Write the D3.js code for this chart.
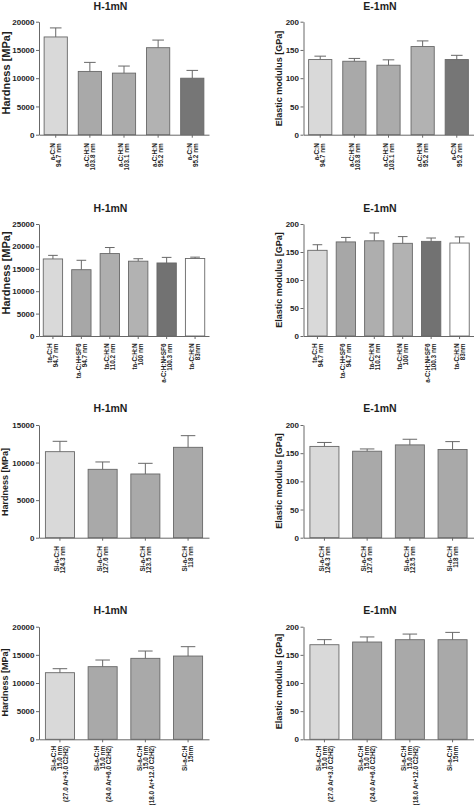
<!DOCTYPE html>
<html>
<head>
<meta charset="utf-8">
<script src="https://cdn.jsdelivr.net/npm/d3@7"></script>
<style>
  body { margin: 0; background: #fff; }
  svg { display: block; }
  text { font-family: "Liberation Sans", Arial, sans-serif; font-weight: bold; fill: #1e1e1e; }
</style>
</head>
<body>
<script>
// --- data ---
// row 1: a-C:N / a-C:H:N
const samples1 = [["a-C:N", "94.7 nm"], ["a-C:H:N", "103.8 nm"], ["a-C:H:N", "103.1 nm"], ["a-C:H:N", "95.2 nm"], ["a-C:N", "95.2 nm"]];
const hard1 = [17300, 11200, 10900, 15400, 10000];
const hardErr1 = [1600, 1600, 1250, 1350, 1380];
const mod1 = [133, 130, 123, 156, 133];
const modErr1 = [6, 5, 9.5, 10, 7.5];

// row 2: ta-C:H based
const samples2 = [["ta-C:H", "94.7 nm"], ["ta-C:H+SF6", "94.7 nm"], ["ta-C:H:N", "110.2 nm"], ["ta-C:H:N", "100 nm"], ["a-C:H:N+SF6", "100.3 nm"], ["ta-C:H:N", "83nm"]];
const hard2 = [17200, 14800, 18400, 16700, 16300, 17300];
const hardErr2 = [800, 2100, 1350, 550, 1250, 300];
const mod2 = [153, 168, 170, 165.5, 169, 166];
const modErr2 = [10, 8, 14, 12, 6, 11];

// row 3: Si-a-C:H, thickness series
const samples3 = [["Si-a-C:H", "124.3 nm"], ["Si-a-C:H", "127.6 nm"], ["Si-a-C:H", "123.5 nm"], ["Si-a-C:H", "118 nm"]];
const hard3 = [11450, 9100, 8480, 12030];
const hardErr3 = [1380, 980, 1420, 1550];
const mod3 = [162, 153.5, 164.7, 156.5];
const modErr3 = [7, 4, 10, 14];

// row 4: Si-a-C:H, gas mixture series
const samples4 = [["Si-a-C:H", "15.0 nm", "(27.0 Ar+3.0 C2H2)"], ["Si-a-C:H", "15.0 nm", "(24.0 Ar+6.0 C2H2)"], ["Si-a-C:H", "15.0 nm", "(18.0 Ar+12.0 C2H2)"], ["Si-a-C:H", "15nm"]];
const hard4 = [11830, 12900, 14380, 14790];
const hardErr4 = [710, 1180, 1300, 1660];
const mod4 = [168, 172.8, 176.9, 176.9];
const modErr4 = [9, 9, 10, 13];

const hardTicks1 = [0, 5000, 10000, 15000, 20000];
const hardTicks2 = [0, 5000, 10000, 15000, 20000, 25000];
const hardTicks3 = [0, 5000, 10000, 15000];
const hardTicks4 = [0, 5000, 10000, 15000, 20000];
const modTicks = [0, 50, 100, 150, 200];

// bar fills per row
const fills1 = ["#d9d9d9", "#a9a9a9", "#ababab", "#b2b2b2", "#767676"];
const fills2 = ["#d9d9d9", "#a7a7a7", "#aeaeae", "#b2b2b2", "#727272", "#ffffff"];
const fills3 = ["#d9d9d9", "#a9a9a9", "#a9a9a9", "#a9a9a9"];
const fills4 = ["#d9d9d9", "#a9a9a9", "#a9a9a9", "#a9a9a9"];

const svg = d3.select("body").append("svg")
  .attr("width", 474)
  .attr("height", 805);

const rows = [
  { samples: samples1, hard: hard1, hardErr: hardErr1, mod: mod1, modErr: modErr1, fills: fills1, hTicks: hardTicks1,
    top: 21.7, bottom: 134.7, titleY: 9.5, gap: 8.5, hSize: 11, hLabelY: 73, hLabelX: 10, eLabelY: 78.5 },
  { samples: samples2, hard: hard2, hardErr: hardErr2, mod: mod2, modErr: modErr2, fills: fills2, hTicks: hardTicks2,
    top: 224, bottom: 336, titleY: 211.5, gap: 7.5, hSize: 11, hLabelY: 273, hLabelX: 10, eLabelY: 280 },
  { samples: samples3, hard: hard3, hardErr: hardErr3, mod: mod3, modErr: modErr3, fills: fills3, hTicks: hardTicks3,
    top: 425, bottom: 537.7, titleY: 411.5, gap: 8.5, hSize: 9, hLabelY: 482, hLabelX: 8, eLabelY: 481 },
  { samples: samples4, hard: hard4, hardErr: hardErr4, mod: mod4, modErr: modErr4, fills: fills4, hTicks: hardTicks4,
    top: 626.7, bottom: 739.3, titleY: 614, gap: 6.5, hSize: 9, hLabelY: 682.5, hLabelX: 8, eLabelY: 681.5 }
];

const plotW = 170;
const axisColor = "#686868";

function drawPanel(p) {
  const x = d3.scaleBand()
    .domain(p.samples.map((d, i) => i))
    .range([p.x0, p.x0 + plotW])
    .paddingInner(0.32)
    .paddingOuter(0.15);
  const y = d3.scaleLinear().domain([0, p.max]).range([p.bottom, p.top]);
  const g = svg.append("g");

  // bars
  g.selectAll("rect").data(p.values).join("rect")
    .attr("x", (d, i) => x(i))
    .attr("y", d => y(d))
    .attr("width", x.bandwidth())
    .attr("height", d => p.bottom - y(d))
    .attr("fill", (d, i) => p.fills[i])
    .attr("stroke", axisColor)
    .attr("stroke-width", 0.9);

  // upper error bars (mean + SD)
  const cap = x.bandwidth() * 0.25;
  g.selectAll("path.err").data(p.values).join("path")
    .attr("class", "err")
    .attr("fill", "none")
    .attr("stroke", axisColor)
    .attr("stroke-width", 1)
    .attr("d", (d, i) => {
      const cx = x(i) + x.bandwidth() / 2;
      const y0 = y(d), y1 = y(d + p.errs[i]);
      return `M${cx},${y0}V${y1}M${cx - cap},${y1}H${cx + cap}`;
    });

  // y axis
  const ya = g.append("g")
    .attr("transform", `translate(${p.x0},0)`)
    .call(d3.axisLeft(y).tickValues(p.ticks).tickFormat(d3.format("d"))
      .tickSize(3).tickSizeOuter(0).tickPadding(1.5));
  ya.selectAll("text").attr("font-size", 8).attr("font-family", null);

  // x axis, labels added by hand (rotated, multi-line)
  const xa = g.append("g")
    .attr("transform", `translate(0,${p.bottom})`)
    .call(d3.axisBottom(x).tickSize(3).tickSizeOuter(0).tickFormat(""));
  xa.selectAll("text").remove();

  g.selectAll("path.domain, .tick line").attr("stroke", axisColor);

  const fs = 6.4, lh = 6;
  p.samples.forEach((lines, i) => {
    const cx = x(i) + x.bandwidth() / 2;
    const t = g.append("text")
      .attr("transform", `translate(${cx},${p.bottom + p.gap}) rotate(-90)`)
      .attr("text-anchor", "end")
      .attr("font-size", fs);
    lines.forEach((s, k) => {
      t.append("tspan")
        .attr("x", 0)
        .attr("y", (k - (lines.length - 1) / 2) * lh + fs * 0.35)
        .text(s);
    });
  });

  // title
  svg.append("text")
    .attr("x", p.titleX).attr("y", p.titleY)
    .attr("text-anchor", "middle")
    .attr("font-size", 10.5)
    .text(p.title);

  // y label
  svg.append("text")
    .attr("transform", `translate(${p.labelX},${p.labelY}) rotate(-90)`)
    .attr("text-anchor", "middle")
    .attr("font-size", p.labelSize)
    .text(p.label);
}

rows.forEach(r => {
  drawPanel({
    x0: 39, samples: r.samples, values: r.hard, errs: r.hardErr, fills: r.fills,
    max: d3.max(r.hTicks), ticks: r.hTicks, top: r.top, bottom: r.bottom, gap: r.gap,
    title: "H-1mN", titleX: 110.5, titleY: r.titleY,
    label: "Hardness [MPa]", labelX: r.hLabelX, labelY: r.hLabelY, labelSize: r.hSize
  });
  drawPanel({
    x0: 303.5, samples: r.samples, values: r.mod, errs: r.modErr, fills: r.fills,
    max: 200, ticks: modTicks, top: r.top, bottom: r.bottom, gap: r.gap,
    title: "E-1mN", titleX: 380, titleY: r.titleY,
    label: "Elastic modulus [GPa]", labelX: 282, labelY: r.eLabelY, labelSize: 9
  });
});
</script>
</body>
</html>
